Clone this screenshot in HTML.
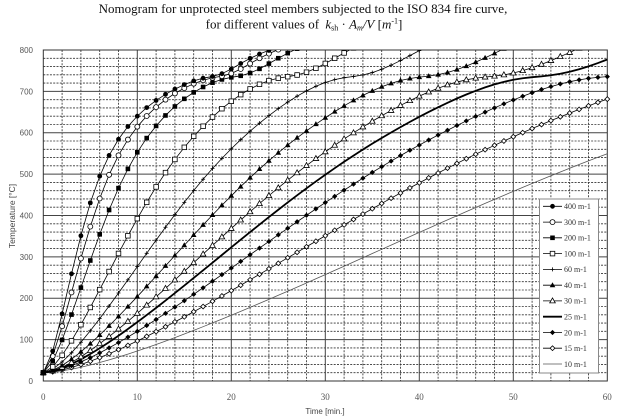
<!DOCTYPE html>
<html><head><meta charset="utf-8"><style>
html,body{margin:0;padding:0;background:#fff;}
svg{display:block;}
</style></head><body>
<svg id="c" width="627" height="420" viewBox="0 0 627 420" xmlns="http://www.w3.org/2000/svg">
<defs><clipPath id="clip"><rect x="0" y="50" width="627" height="370"/></clipPath></defs>
<rect width="627" height="420" fill="#fff"/>
<text x="303" y="13" text-anchor="middle" font-family="Liberation Serif, serif" font-size="13" fill="#111">Nomogram for unprotected steel members subjected to the ISO 834 fire curve,</text>
<text x="304" y="28.5" text-anchor="middle" font-family="Liberation Serif, serif" font-size="13" fill="#111">for different values of <tspan dx="3" font-style="italic">k</tspan><tspan font-size="8" dy="2">sh</tspan><tspan dy="-2"> · </tspan><tspan font-style="italic">A</tspan><tspan font-style="italic" font-size="8" dy="2">m</tspan><tspan dy="-2" font-style="italic">/V</tspan> [<tspan font-style="italic">m</tspan><tspan font-size="8" dy="-5">-1</tspan><tspan dy="5">]</tspan></text>

<!-- minor grid -->
<path fill="none" stroke="#333" stroke-width="0.85" stroke-dasharray="2,1.3" d="
M62.1 50V381 M80.9 50V381 M99.7 50V381 M118.5 50V381
M156.1 50V381 M174.9 50V381 M193.7 50V381 M212.5 50V381
M250.1 50V381 M268.9 50V381 M287.7 50V381 M306.5 50V381
M344.1 50V381 M362.9 50V381 M381.7 50V381 M400.5 50V381
M438.1 50V381 M456.9 50V381 M475.7 50V381 M494.5 50V381
M532.1 50V381 M550.9 50V381 M569.7 50V381 M588.5 50V381
M43.3 372.7H607.3 M43.3 364.45H607.3 M43.3 356.2H607.3 M43.3 347.9H607.3
M43.3 331.35H607.3 M43.3 323.1H607.3 M43.3 314.8H607.3 M43.3 306.5H607.3
M43.3 290H607.3 M43.3 281.7H607.3 M43.3 273.4H607.3 M43.3 265.15H607.3
M43.3 248.6H607.3 M43.3 240.3H607.3 M43.3 232.05H607.3 M43.3 223.8H607.3
M43.3 207.2H607.3 M43.3 198.95H607.3 M43.3 190.7H607.3 M43.3 182.4H607.3
M43.3 165.85H607.3 M43.3 157.6H607.3 M43.3 149.3H607.3 M43.3 141H607.3
M43.3 124.5H607.3 M43.3 116.2H607.3 M43.3 107.9H607.3 M43.3 99.65H607.3
M43.3 83.1H607.3 M43.3 74.8H607.3 M43.3 66.55H607.3 M43.3 58.3H607.3"/>
<!-- major grid -->
<path fill="none" stroke="#444" stroke-width="1" d="
M137.3 50V381 M231.3 50V381 M325.3 50V381 M419.3 50V381 M513.3 50V381
M43.3 339.6H607.3 M43.3 298.25H607.3 M43.3 256.9H607.3 M43.3 215.5H607.3
M43.3 174.1H607.3 M43.3 132.75H607.3 M43.3 91.4H607.3"/>
<rect x="43.3" y="50" width="564" height="331" fill="none" stroke="#333" stroke-width="1"/>

<g font-family="Liberation Sans, sans-serif" font-size="8" fill="#555" text-anchor="end">
<text x="33" y="384">0</text>
<text x="33" y="342.6">100</text>
<text x="33" y="301.2">200</text>
<text x="33" y="259.9">300</text>
<text x="33" y="218.5">400</text>
<text x="33" y="177.1">500</text>
<text x="33" y="135.7">600</text>
<text x="33" y="94.4">700</text>
<text x="33" y="53">800</text>
</g>
<g font-family="Liberation Serif, serif" font-size="9" fill="#555" text-anchor="middle">
<text x="43.3" y="400">0</text>
<text x="137.3" y="400">10</text>
<text x="231.3" y="400">20</text>
<text x="325.3" y="400">30</text>
<text x="419.3" y="400">40</text>
<text x="513.3" y="400">50</text>
<text x="607.3" y="400">60</text>
</g>
<text x="325" y="414" text-anchor="middle" font-family="Liberation Sans, sans-serif" font-size="8" fill="#444">Time [min.]</text>
<text transform="translate(15,216) rotate(-90)" text-anchor="middle" font-family="Liberation Sans, sans-serif" font-size="8.5" fill="#444">Temperature [°C]</text>

<g id="curves" clip-path="url(#clip)"></g>

<!-- legend -->
<g id="legend">
<rect x="539.5" y="199" width="59" height="174" fill="#fff" stroke="#888" stroke-width="1"/>
<g stroke="#000" stroke-width="0.8">
<path d="M543 206.3H562 M543 222.1H562 M543 237.8H562 M543 253.6H562 M543 269.4H562 M543 285.2H562 M543 300.9H562 M543 332.5H562 M543 348.2H562"/>
<path d="M543 316.7H562" stroke-width="1.8"/>
<path d="M543 364H562" stroke="#555"/>
</g>
<circle cx="552.5" cy="206.3" r="2.4" fill="#000"/>
<circle cx="552.5" cy="222.1" r="2.5" fill="#fff" stroke="#000" stroke-width="0.8"/>
<rect x="550.2" y="235.5" width="4.6" height="4.6" fill="#000"/>
<rect x="550.2" y="251.3" width="4.6" height="4.6" fill="#fff" stroke="#000" stroke-width="0.8"/>
<path d="M550.5 269.4H554.5M552.5 267.4V271.4" stroke="#000" stroke-width="0.8"/>
<polygon points="552.5,282.2 555.3,287.2 549.7,287.2" fill="#000"/>
<polygon points="552.5,297.9 555.3,302.9 549.7,302.9" fill="#fff" stroke="#000" stroke-width="0.8"/>
<polygon points="552.5,329.9 555.1,332.5 552.5,335.1 549.9,332.5" fill="#000"/>
<polygon points="552.5,345.8 554.9,348.2 552.5,350.6 550.1,348.2" fill="#fff" stroke="#000" stroke-width="0.8"/>
<g font-family="Liberation Serif, serif" font-size="8" fill="#333">
<text x="564" y="209.1">400 m-1</text>
<text x="564" y="224.9">300 m-1</text>
<text x="564" y="240.6">200 m-1</text>
<text x="564" y="256.4">100 m-1</text>
<text x="564" y="272.2">60 m-1</text>
<text x="564" y="288">40 m-1</text>
<text x="564" y="303.7">30 m-1</text>
<text x="564" y="319.5">25 m-1</text>
<text x="564" y="335.3">20 m-1</text>
<text x="564" y="351">15 m-1</text>
<text x="564" y="366.8">10 m-1</text>
</g>
</g>
</svg>
<script>
(function(){
function X(t){return 43.3+9.4*t;}
function Y(T){return 381-0.41375*T;}
function ca(t){
  if(t<600) return 425+0.773*t-1.69e-3*t*t+2.22e-6*t*t*t;
  if(t<735) return 666+13002/(738-t);
  if(t<900) return 545+17820/(t-731);
  return 650;
}
function sim(av){
  var th=20, r=[[0,20]], sig=5.67e-8;
  for(var s=1;s<=3600;s++){
    var tm=(s-0.5)/60;
    var g=20+345*Math.log10(8*tm+1);
    var h=25*(g-th)+0.7*sig*(Math.pow(g+273,4)-Math.pow(th+273,4));
    th+=av/(ca(th)*7850)*h;
    if(s%60===0) r.push([s/60,th]);
  }
  return r;
}
function mk(type,x,y){
  x=x.toFixed(2); y=+y;
  var X0=+x;
  switch(type){
    case 'fc': return '<circle cx="'+x+'" cy="'+y.toFixed(2)+'" r="2.4" fill="#000"/>';
    case 'oc': return '<circle cx="'+x+'" cy="'+y.toFixed(2)+'" r="2.5" fill="#fff" stroke="#000" stroke-width="0.8"/>';
    case 'fs': return '<rect x="'+(X0-2.3).toFixed(2)+'" y="'+(y-2.3).toFixed(2)+'" width="4.6" height="4.6" fill="#000"/>';
    case 'os': return '<rect x="'+(X0-2.3).toFixed(2)+'" y="'+(y-2.3).toFixed(2)+'" width="4.6" height="4.6" fill="#fff" stroke="#000" stroke-width="0.8"/>';
    case 'pl': return '<path d="M'+(X0-2).toFixed(2)+' '+y.toFixed(2)+'H'+(X0+2).toFixed(2)+'M'+x+' '+(y-2).toFixed(2)+'V'+(y+2).toFixed(2)+'" stroke="#000" stroke-width="0.8"/>';
    case 'ft': return '<polygon points="'+x+','+(y-3).toFixed(2)+' '+(X0+2.8).toFixed(2)+','+(y+2).toFixed(2)+' '+(X0-2.8).toFixed(2)+','+(y+2).toFixed(2)+'" fill="#000"/>';
    case 'ot': return '<polygon points="'+x+','+(y-3).toFixed(2)+' '+(X0+2.8).toFixed(2)+','+(y+2).toFixed(2)+' '+(X0-2.8).toFixed(2)+','+(y+2).toFixed(2)+'" fill="#fff" stroke="#000" stroke-width="0.8"/>';
    case 'fd': return '<polygon points="'+x+','+(y-2.6).toFixed(2)+' '+(X0+2.6).toFixed(2)+','+y.toFixed(2)+' '+x+','+(y+2.6).toFixed(2)+' '+(X0-2.6).toFixed(2)+','+y.toFixed(2)+'" fill="#000"/>';
    case 'od': return '<polygon points="'+x+','+(y-2.4).toFixed(2)+' '+(X0+2.4).toFixed(2)+','+y.toFixed(2)+' '+x+','+(y+2.4).toFixed(2)+' '+(X0-2.4).toFixed(2)+','+y.toFixed(2)+'" fill="#fff" stroke="#000" stroke-width="0.8"/>';
  }
  return '';
}
var series=[
  [10,'',0.8,'#555'],
  [15,'od',0.8,'#000'],
  [20,'fd',0.8,'#000'],
  [25,'',1.8,'#000'],
  [30,'ot',0.8,'#000'],
  [40,'ft',0.8,'#000'],
  [60,'pl',0.8,'#000'],
  [100,'os',0.8,'#000'],
  [200,'fs',0.8,'#000'],
  [300,'oc',0.8,'#000'],
  [400,'fc',0.8,'#000']
];
var out='';
for(var i=0;i<series.length;i++){
  var s=series[i], d=sim(s[0]), p='';
  for(var j=0;j<d.length;j++){
    p+=(j?'L':'M')+X(d[j][0]).toFixed(2)+' '+Y(d[j][1]).toFixed(2);
  }
  out+='<path d="'+p+'" fill="none" stroke="'+s[3]+'" stroke-width="'+s[2]+'"/>';
  if(s[1]){
    for(var j=0;j<d.length;j++){
      var yy=Y(d[j][1]);
      if(yy<44) continue;
      out+=mk(s[1],X(d[j][0]),yy);
    }
  }
}
document.getElementById('curves').innerHTML=out;
})();
</script>
</body></html>
